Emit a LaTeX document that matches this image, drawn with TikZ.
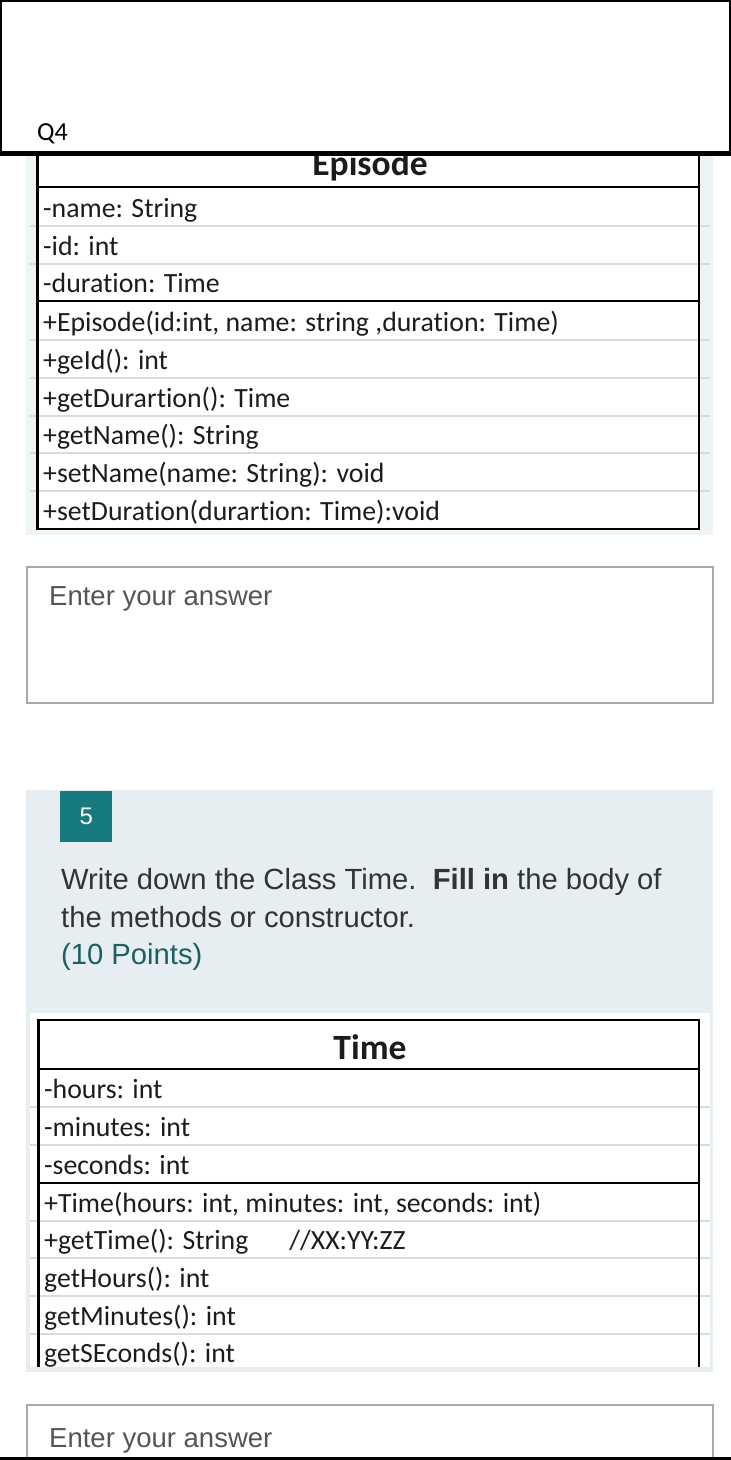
\documentclass[tikz,border=0pt]{standalone}
\usepackage{fontspec}
\setmainfont{Carlito}[Ligatures=NoCommon]
\newfontfamily\arialf{Liberation Sans}
\definecolor{panelbg}{HTML}{E7EEF1}
\definecolor{panelbgA}{HTML}{EEF3F5}
\definecolor{tealbox}{HTML}{177A7F}
\definecolor{tealtxt}{HTML}{1F5F62}
\definecolor{gridgray}{HTML}{D6DBDF}
\definecolor{boxgray}{HTML}{A8A8A8}
\definecolor{txtgray}{HTML}{555555}
\definecolor{qtxt}{HTML}{333333}
\definecolor{celltxt}{HTML}{1C1C1C}
\begin{document}
\begin{tikzpicture}[x=1pt,y=-1pt,
  cell/.style={anchor=base west, inner sep=0pt, font=\fontsize{27.8}{30}\selectfont, text=celltxt},
  ctitle/.style={anchor=base, inner sep=0pt, font=\fontsize{35.5}{38}\selectfont\bfseries, text=celltxt},
  tblrule/.style={line width=2.6pt, black},
  gridline/.style={line width=1.2pt, gridgray},
  ansbox/.style={draw=boxgray, line width=1.5pt, fill=white},
  anstext/.style={anchor=base west, inner sep=0pt, font=\arialf\fontsize{27.5}{30}\selectfont, text=txtgray},
  qtext/.style={anchor=base west, inner sep=0pt, font=\arialf\fontsize{29.2}{32}\selectfont, text=qtxt}
]
\useasboundingbox (0,0) rectangle (731,1460);
\fill[white] (0,0) rectangle (731,1460);

% ---------- Episode table ----------
\fill[panelbgA] (26,155) rectangle (713,535);
\fill[white] (38,140) rectangle (699,529);
\foreach \yy in {226,264,340,378,416,453,491}
  \draw[gridline] (30,\yy) -- (710,\yy);
\foreach \yy in {187,301,529}
  \draw[tblrule] (37.5,\yy) -- (699,\yy);
\draw[tblrule] (37.5,150) -- (37.5,530);
\draw[tblrule] (699,150) -- (699,530);

\node[ctitle] (eptitle) at (370,175) {Episode};
\node[cell] (ep1) at (43,217) {-name: String};
\node[cell] (ep2) at (43,255) {-id: int};
\node[cell] (ep3) at (43,292) {-duration: Time};
\node[cell] (ep4) at (43,331) {+Episode(id:int, name: string ,duration: Time)};
\node[cell] (ep5) at (43,369) {+geId(): int};
\node[cell] (ep6) at (43,407) {+getDurartion(): Time};
\node[cell] (ep7) at (43,444) {+getName(): String};
\node[cell] (ep8) at (43,482) {+setName(name: String): void};
\node[cell] (ep9) at (43,520) {+setDuration(durartion: Time):void};

% ---------- top box (overlaps the table title) ----------
\fill[white] (0,0) rectangle (730.5,153);
\draw[line width=1.5pt] (0.75,0.75) rectangle (730,153);
\draw[line width=5pt] (0,153.5) -- (731,153.5);
\node[anchor=base west, inner sep=0pt, font=\fontsize{26}{28}\selectfont, text=black] (q4) at (37,140) {Q4};

% ---------- answer box 1 ----------
\draw[ansbox] (27,567) rectangle (713,703);
\node[anstext] (ans1) at (49,605) {Enter your answer};

% ---------- question 5 panel ----------
\fill[panelbg] (26,790) rectangle (713,1372);
\node[fill=tealbox, text=white, minimum width=52pt, minimum height=51pt, inner sep=0pt,
      anchor=north west, font=\arialf\fontsize{24}{26}\selectfont] (num5) at (60,791) {5};
\node[qtext] (ql1) at (61,889) {Write down the Class Time.\ \ \textbf{Fill in} the body of};
\node[qtext] (ql2) at (61,927) {the methods or constructor.};
\node[qtext, text=tealtxt] (ql3) at (61,964) {(10 Points)};

% ---------- Time table ----------
\fill[white] (30,1013) rectangle (710,1367);
\foreach \yy in {1107,1145,1221,1258,1296,1334}
  \draw[gridline] (30,\yy) -- (710,\yy);
\foreach \yy in {1020,1069,1183}
  \draw[tblrule] (37.5,\yy) -- (699,\yy);
\draw[tblrule] (38.5,1019) -- (38.5,1367);
\draw[tblrule] (699,1019) -- (699,1367);

\node[ctitle] (ttitle) at (370,1059) {Time};
\node[cell] (t1) at (44,1098) {-hours: int};
\node[cell] (t2) at (44,1136) {-minutes: int};
\node[cell] (t3) at (44,1174) {-seconds: int};
\node[cell] (t4) at (44,1212) {+Time(hours: int, minutes: int, seconds: int)};
\node[cell] (t5) at (44,1249) {+getTime(): String\hspace{41pt}//XX:YY:ZZ};
\node[cell] (t6) at (44,1287) {getHours(): int};
\node[cell] (t7) at (44,1325) {getMinutes(): int};
\node[cell] (t8) at (44,1362) {getSEconds(): int};

% ---------- answer box 2 ----------
\draw[ansbox] (27,1405) rectangle (713,1475);
\node[anstext] (ans2) at (49,1447) {Enter your answer};
\draw[line width=3.5pt] (0,1458.5) -- (731,1458.5);
\end{tikzpicture}
\end{document}
